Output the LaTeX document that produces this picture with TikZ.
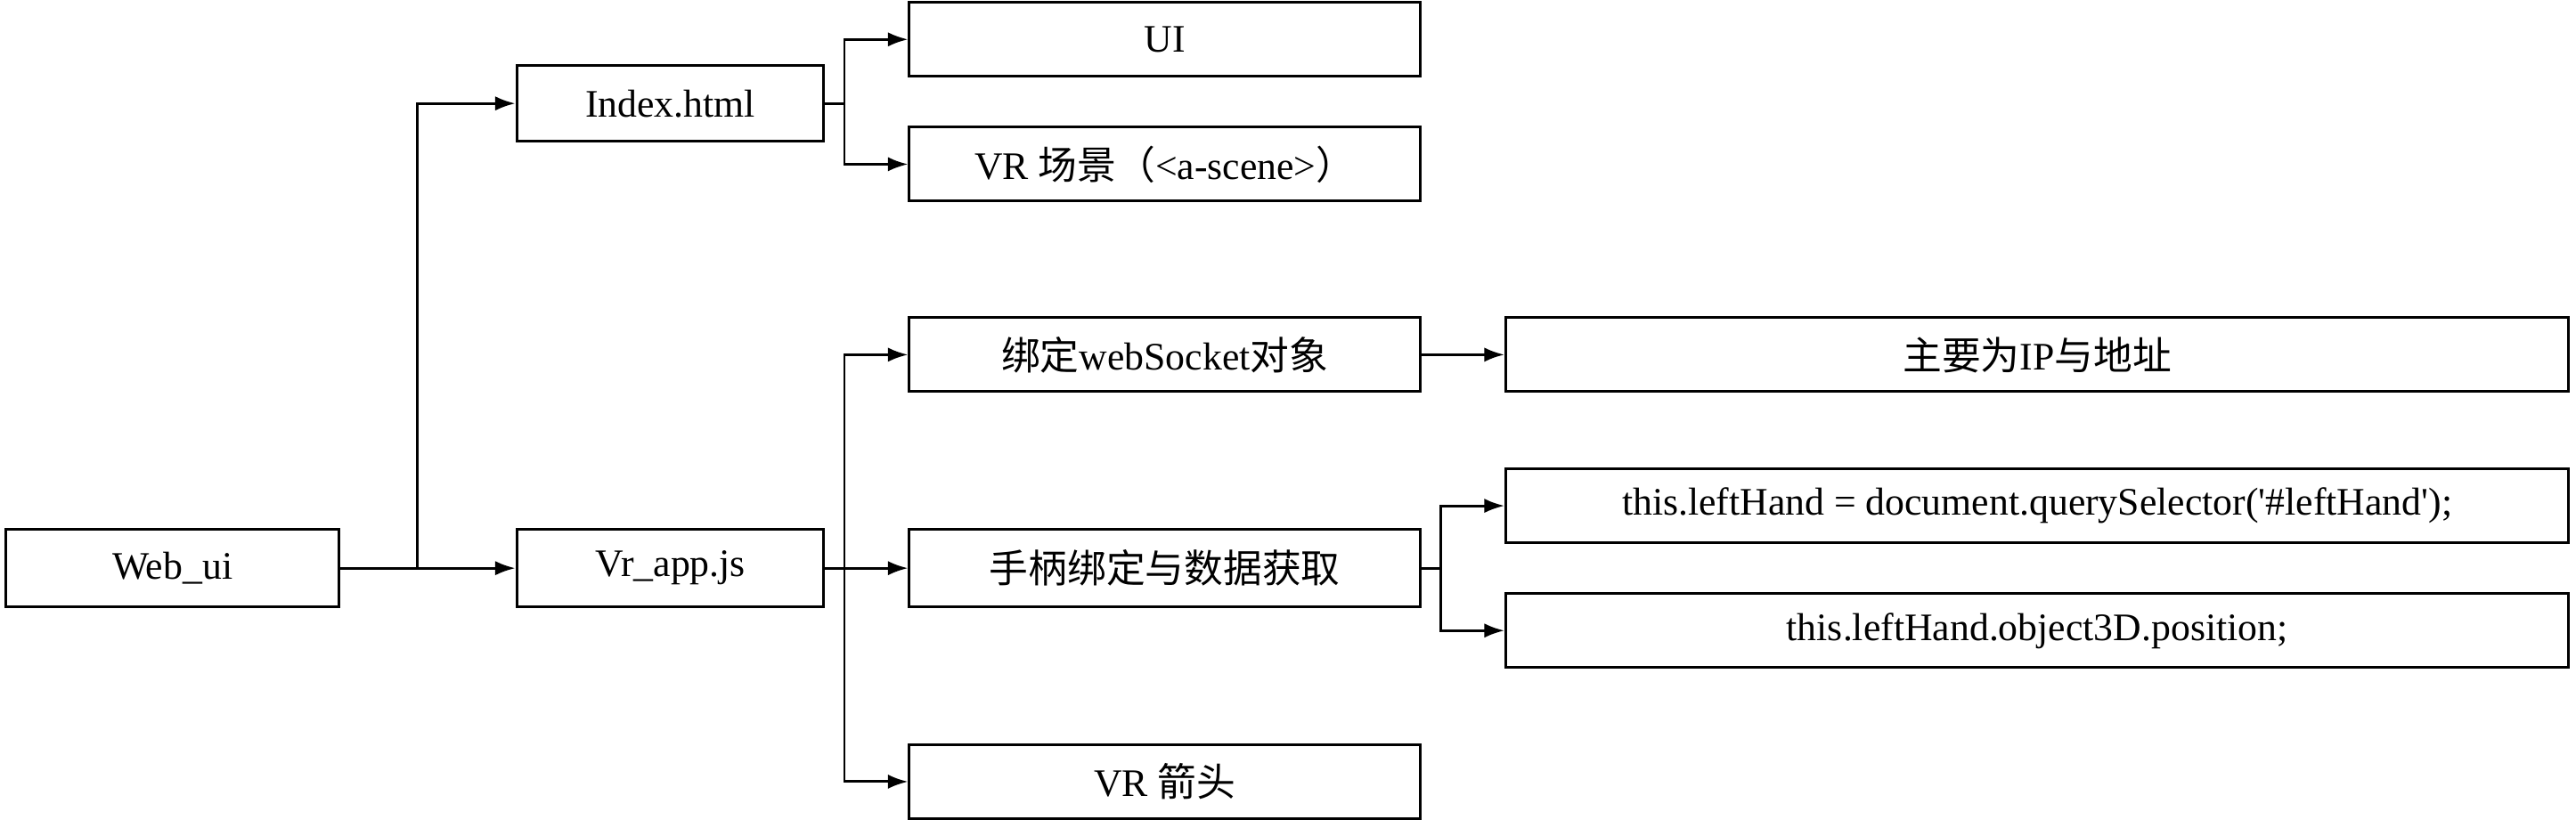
\documentclass[tikz,border=0pt]{standalone}
\usepackage{fontspec}
\setmainfont{Liberation Serif}
\newfontfamily\cjk{Noto Sans CJK SC}
\usetikzlibrary{arrows.meta}
\begin{document}
\begin{tikzpicture}[x=0.02cm,y=-0.02cm,
  box/.style={draw,line width=0.9pt,inner sep=0pt,font=\fontsize{13.5}{16}\selectfont},
  arr/.style={line width=0.9pt,-{Latex[length=7pt,width=5pt]}}]
\useasboundingbox (0,0) rectangle (1568,504);
\node[box,minimum width=4.06cm,minimum height=0.94cm] (web) at (105,346) {Web\_ui};
\node[box,minimum width=3.74cm,minimum height=0.92cm] (idx) at (408,63) {Index.html};
\node[box,minimum width=3.74cm,minimum height=0.94cm] (vr) at (408,346) {Vr\_app.js};
\node[box,minimum width=6.22cm,minimum height=0.9cm] (ui) at (709,24) {UI};
\node[box,minimum width=6.22cm,minimum height=0.9cm] (scene) at (709,100) {VR {\cjk 场景（}<a-scene>{\cjk ）}};
\node[box,minimum width=6.22cm,minimum height=0.9cm] (ws) at (709,216) {{\cjk 绑定}webSocket{\cjk 对象}};
\node[box,minimum width=6.22cm,minimum height=0.94cm] (hand) at (709,346) {{\cjk 手柄绑定与数据获取}};
\node[box,minimum width=6.22cm,minimum height=0.9cm] (arrow) at (709,476) {VR {\cjk 箭头}};
\node[box,minimum width=12.94cm,minimum height=0.9cm] (ip) at (1240,216) {{\cjk 主要为}IP{\cjk 与地址}};
\node[box,minimum width=12.94cm,minimum height=0.9cm] (lh) at (1240,308) {this.leftHand = document.querySelector(\textquotesingle\#leftHand\textquotesingle);};
\node[box,minimum width=12.94cm,minimum height=0.9cm] (pos) at (1240,384) {this.leftHand.object3D.position;};
\coordinate (b1) at (254,346);
\coordinate (b2) at (514,63);
\coordinate (b3) at (514,346);
\coordinate (b4) at (877,346);
\draw[arr] (web.east) -- (vr.west);
\draw[arr] (b1) |- (idx.west);
\draw[line width=0.9pt] (idx.east) -- (b2);
\draw[arr] (b2) |- (ui.west);
\draw[arr] (b2) |- (scene.west);
\draw[arr] (vr.east) -- (hand.west);
\draw[arr] (b3) |- (ws.west);
\draw[arr] (b3) |- (arrow.west);
\draw[arr] (ws.east) -- (ip.west);
\draw[line width=0.9pt] (hand.east) -- (b4);
\draw[arr] (b4) |- (lh.west);
\draw[arr] (b4) |- (pos.west);
\end{tikzpicture}
\end{document}
